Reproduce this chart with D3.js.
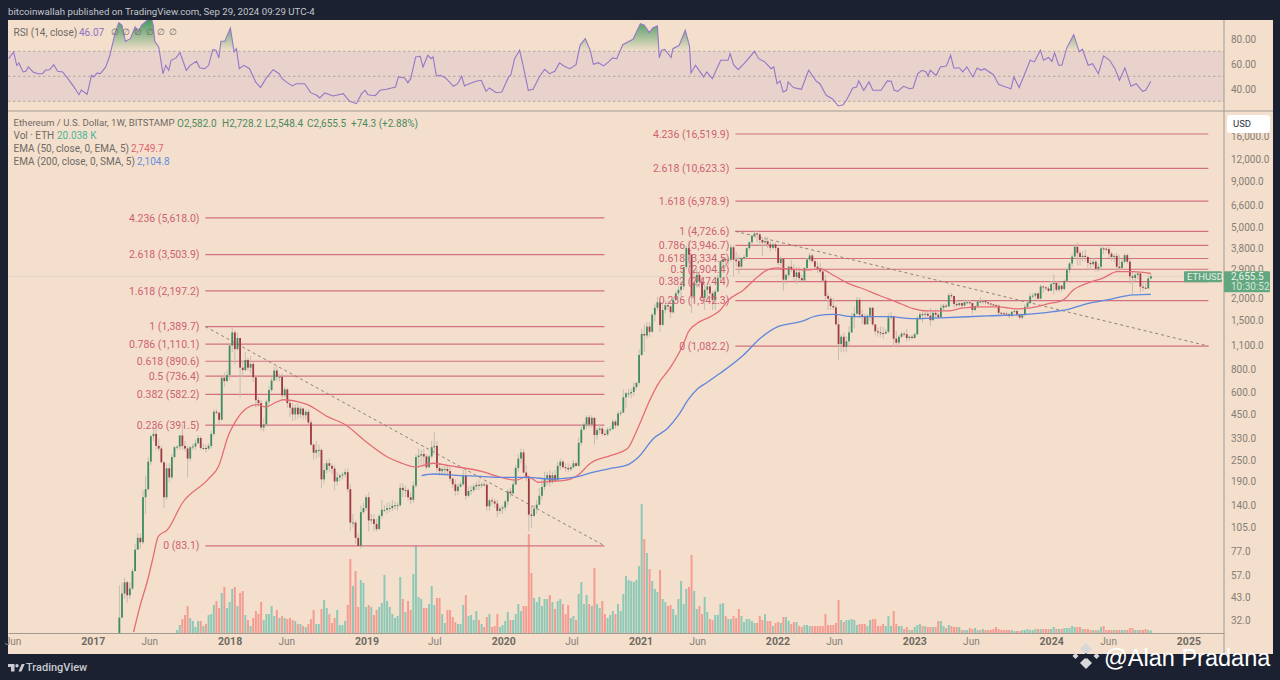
<!DOCTYPE html>
<html>
<head>
<meta charset="utf-8">
<title>ETHUSD</title>
<script src="https://cdn.jsdelivr.net/npm/d3@7"></script>
<style>
	html, body { margin: 0; padding: 0; background: #1b2130; }
	svg { display: block; }
	text { font-family: Roboto, "Noto Sans", sans-serif; }
</style>
</head>
<body>
<svg id="chart" width="1280" height="680"></svg>
<script>
// Weekly bars, Mon 2017-03-06 to Mon 2024-09-23. One row per year.
const closes = [
	// 2017
	24, 33, 45, 52, 44, 48, 60, 79, 92, 87, 155, 172, 245, 340, 350, 300, 290, 243, 155, 225, 200, 260, 295, 297, 343, 300, 290, 255, 295, 298, 310, 332, 292, 292, 290, 300, 350, 465, 460, 420, 720, 690, 745,
	// 2018
	1090, 1290, 1040, 1200, 820, 795, 905, 820, 860, 725, 540, 520, 380, 395, 530, 615, 695, 790, 730, 730, 575, 620, 520, 490, 450, 490, 450, 485, 445, 465, 405, 305, 275, 285, 285, 195, 220, 240, 232, 224, 190, 200, 205, 208, 214, 172, 112, 112, 92, 83, 128, 135, 155,
	// 2019
	115, 117, 110, 103, 122, 132, 132, 135, 135, 139, 140, 140, 175, 170, 170, 155, 150, 180, 260, 265, 270, 262, 228, 262, 295, 300, 226, 217, 223, 223, 217, 197, 183, 168, 178, 183, 205, 158, 168, 170, 178, 182, 180, 183, 182, 138, 149, 147, 143, 130, 134, 136,
	// 2020
	147, 167, 163, 183, 226, 255, 276, 213, 198, 124, 122, 134, 141, 158, 177, 198, 206, 188, 206, 192, 232, 245, 228, 226, 222, 228, 240, 232, 312, 370, 395, 433, 395, 430, 345, 368, 375, 350, 348, 370, 372, 410, 390, 455, 460, 560, 590, 590, 600, 640, 675, 965,
	// 2021
	1265, 1240, 1390, 1300, 1620, 1770, 1900, 1420, 1720, 1830, 1800, 1670, 1960, 2130, 2230, 2330, 2990, 3810, 3500, 2050, 2440, 2700, 2480, 2010, 2230, 2330, 2130, 1960, 2180, 2600, 3210, 3310, 3260, 3280, 3850, 3280, 3220, 3000, 3350, 3400, 3810, 4110, 4470, 4600, 4550, 4230, 4100, 4170, 4000, 3830, 4000, 3820,
	// 2022
	3150, 3320, 2540, 2700, 3000, 2880, 2630, 2790, 2590, 2520, 2950, 3290, 3470, 3220, 3000, 2920, 2820, 2510, 2060, 1990, 1810, 1780, 1430, 1110, 1220, 1070, 1150, 1290, 1570, 1640, 1960, 1620, 1590, 1430, 1600, 1770, 1430, 1310, 1290, 1280, 1270, 1300, 1565, 1590, 1190, 1130, 1220, 1270, 1260, 1200, 1220, 1200,
	// 2023
	1260, 1550, 1630, 1620, 1640, 1600, 1510, 1660, 1620, 1570, 1770, 1820, 1800, 2080, 2060, 1860, 1830, 1880, 1820, 1900, 1900, 1880, 1720, 1810, 1920, 1910, 1930, 1900, 1870, 1850, 1830, 1820, 1660, 1650, 1640, 1630, 1590, 1680, 1700, 1620, 1560, 1610, 1790, 1880, 2050, 2070, 2130, 1990, 2330, 2300, 2270, 2200,
	// 2024
	2400, 2440, 2230, 2350, 2250, 2500, 2880, 3130, 3420, 3880, 3580, 3400, 3450, 3400, 3150, 3100, 3200, 2920, 3000, 3800, 3780, 3760, 3550, 3400, 3450, 3000, 2950, 3200, 3480, 3200, 2650, 2600, 2700, 2750, 2320, 2290, 2270, 2580, 2655.5,
];
const highs = [
	27, 50, 52, 55, 53, 52, 62, 85, 98, 97, 170, 205, 260, 345, 400, 385, 330, 300, 245, 240, 240, 270, 300, 303, 345, 395, 320, 300, 300, 310, 325, 345, 340, 310, 305, 310, 365, 480, 480, 455, 730, 770, 790,
	1110, 1390, 1330, 1290, 1200, 900, 1000, 930, 950, 880, 740, 560, 540, 430, 545, 650, 720, 830, 835, 760, 760, 640, 630, 540, 520, 510, 520, 500, 490, 480, 480, 420, 310, 320, 305, 290, 240, 250, 255, 240, 235, 215, 210, 215, 222, 225, 185, 125, 115, 97, 140, 145, 160,
	165, 125, 125, 118, 125, 150, 140, 145, 145, 150, 147, 145, 185, 185, 180, 175, 165, 190, 270, 290, 285, 290, 270, 268, 320, 360, 320, 240, 230, 235, 235, 230, 200, 195, 185, 190, 220, 225, 178, 180, 185, 190, 195, 188, 190, 187, 152, 155, 152, 150, 138, 140,
	150, 172, 175, 190, 235, 270, 290, 288, 235, 205, 140, 140, 150, 175, 195, 215, 215, 220, 215, 220, 245, 255, 250, 240, 240, 235, 250, 245, 335, 395, 405, 445, 445, 445, 435, 380, 395, 385, 365, 380, 385, 425, 420, 470, 475, 620, 600, 625, 625, 680, 680, 1040,
	1350, 1430, 1480, 1470, 1660, 1870, 2040, 2000, 1850, 1950, 1945, 1830, 2000, 2200, 2350, 2500, 3000, 3950, 4200, 3540, 2900, 2900, 2850, 2600, 2400, 2420, 2420, 2200, 2250, 2700, 3250, 3400, 3400, 3380, 4000, 3960, 3620, 3480, 3400, 3500, 3850, 4180, 4500, 4800, 4726, 4620, 4350, 4450, 4400, 4200, 4100, 4100,
	3870, 3420, 3300, 2760, 3060, 3280, 3100, 2980, 3000, 2700, 2980, 3350, 3580, 3530, 3300, 3200, 3150, 2960, 2700, 2150, 2050, 2000, 1830, 1560, 1260, 1290, 1230, 1400, 1660, 1790, 2030, 2020, 1720, 1640, 1620, 1790, 1790, 1410, 1370, 1390, 1380, 1350, 1640, 1680, 1600, 1320, 1250, 1300, 1300, 1350, 1240, 1250,
	1280, 1590, 1680, 1720, 1690, 1720, 1760, 1720, 1730, 1660, 1850, 1860, 1860, 2130, 2140, 2000, 1950, 1920, 1900, 1970, 1950, 1960, 1900, 1820, 1940, 2030, 1970, 1920, 1900, 1890, 1870, 1860, 1840, 1680, 1680, 1690, 1660, 1700, 1750, 1720, 1640, 1630, 1850, 1900, 2130, 2140, 2140, 2140, 2390, 2350, 2350, 2330,
	2490, 2710, 2500, 2440, 2380, 2550, 2960, 3190, 3520, 4000, 4090, 3680, 3680, 3730, 3450, 3290, 3350, 3290, 3130, 3950, 3980, 3850, 3880, 3640, 3520, 3580, 3500, 3280, 3550, 3560, 3320, 2820, 2780, 2800, 2770, 2460, 2420, 2680, 2728.2,
];
const lows = [
	20, 28, 33, 42, 40, 42, 47, 60, 80, 80, 85, 125, 168, 235, 320, 285, 280, 240, 135, 150, 188, 195, 255, 285, 285, 285, 280, 200, 245, 285, 285, 310, 285, 285, 275, 285, 290, 340, 450, 400, 415, 640, 680,
	700, 1000, 850, 1020, 560, 730, 780, 790, 760, 680, 490, 500, 365, 360, 385, 510, 600, 690, 690, 690, 555, 560, 490, 435, 415, 420, 425, 430, 420, 420, 395, 300, 250, 255, 260, 175, 185, 210, 215, 210, 170, 180, 190, 195, 200, 165, 100, 105, 85, 82, 80, 125, 130,
	100, 110, 100, 100, 102, 118, 128, 125, 128, 130, 132, 130, 137, 155, 155, 148, 142, 145, 175, 235, 235, 230, 222, 225, 255, 270, 215, 205, 205, 208, 205, 190, 175, 158, 160, 175, 180, 150, 155, 160, 165, 170, 170, 175, 178, 130, 130, 140, 135, 120, 125, 125,
	130, 140, 155, 160, 180, 215, 240, 210, 190, 100, 105, 120, 125, 140, 150, 170, 180, 178, 185, 190, 200, 220, 225, 215, 215, 218, 225, 230, 230, 300, 365, 375, 380, 380, 305, 325, 350, 340, 340, 340, 360, 370, 375, 385, 440, 460, 490, 560, 555, 570, 620, 660,
	950, 1000, 1190, 1220, 1280, 1480, 1700, 1300, 1400, 1650, 1720, 1550, 1640, 1930, 2050, 2020, 2230, 2900, 3000, 1650, 1900, 2300, 2300, 1900, 1720, 1960, 2000, 1720, 1720, 2150, 2450, 2900, 2950, 3060, 3200, 2650, 3000, 2720, 2950, 3250, 3350, 3700, 3900, 4350, 4100, 3900, 3450, 3930, 3800, 3650, 3750, 3650,
	3050, 3020, 2200, 2400, 2600, 2800, 2500, 2400, 2500, 2450, 2480, 2850, 3200, 3150, 2880, 2780, 2750, 2450, 1950, 1720, 1720, 1720, 1420, 900, 1000, 1000, 1000, 1100, 1280, 1360, 1620, 1550, 1430, 1420, 1440, 1500, 1400, 1250, 1220, 1220, 1190, 1260, 1270, 1520, 1070, 1100, 1080, 1200, 1220, 1150, 1160, 1180,
	1190, 1250, 1510, 1460, 1550, 1570, 1400, 1500, 1550, 1540, 1580, 1720, 1760, 1790, 2000, 1780, 1780, 1800, 1750, 1800, 1850, 1840, 1640, 1700, 1790, 1880, 1860, 1850, 1830, 1820, 1780, 1800, 1610, 1600, 1600, 1610, 1550, 1580, 1650, 1580, 1530, 1530, 1600, 1760, 1860, 1990, 1980, 1930, 1980, 2140, 2200, 2170,
	2200, 2100, 2170, 2170, 2170, 2220, 2470, 2760, 3000, 3350, 3050, 3050, 3200, 3210, 2850, 2880, 3000, 2820, 2820, 2900, 3530, 3650, 3350, 3240, 3200, 2810, 2810, 2950, 3140, 3120, 2400, 2110, 2500, 2550, 2150, 2200, 2250, 2270, 2548.4,
];
// Thousand ETH. Nothing before Aug 2017.
const volumes = [
	0, 0, 0, 0, 0, 0, 0, 0, 0, 0, 0, 0, 0, 0, 0, 0, 0, 0, 0, 0, 0, 0, 0, 24, 64, 112, 144, 216, 120, 96, 48, 96, 96, 56, 72, 144, 152, 224, 256, 200, 320, 368, 200,
	248, 352, 368, 216, 320, 336, 144, 104, 56, 120, 176, 152, 248, 104, 152, 152, 216, 136, 184, 120, 136, 120, 112, 120, 104, 96, 72, 72, 56, 48, 72, 112, 184, 72, 72, 192, 264, 200, 152, 80, 120, 184, 64, 64, 96, 224, 592, 376, 496, 208, 424, 400, 208,
	224, 208, 144, 184, 208, 240, 464, 256, 208, 152, 120, 136, 448, 272, 168, 256, 184, 472, 704, 288, 272, 200, 200, 232, 376, 224, 280, 280, 152, 80, 184, 184, 128, 88, 72, 72, 224, 304, 136, 144, 104, 176, 104, 72, 48, 128, 152, 48, 56, 152, 48, 64,
	96, 168, 104, 104, 152, 232, 176, 216, 216, 792, 480, 280, 248, 288, 216, 272, 272, 304, 248, 192, 256, 272, 232, 152, 224, 120, 136, 104, 312, 408, 232, 304, 232, 216, 520, 232, 200, 256, 152, 120, 144, 176, 152, 232, 176, 312, 456, 424, 416, 408, 424, 536,
	1032, 752, 640, 512, 416, 352, 328, 504, 272, 248, 216, 224, 192, 144, 272, 416, 232, 352, 368, 624, 336, 192, 216, 152, 288, 168, 112, 104, 144, 144, 232, 240, 136, 112, 112, 136, 120, 192, 136, 88, 112, 112, 96, 80, 80, 136, 104, 152, 96, 96, 56, 80,
	88, 80, 128, 128, 96, 72, 88, 88, 56, 48, 64, 64, 56, 56, 56, 56, 56, 56, 152, 64, 64, 64, 80, 264, 104, 88, 104, 104, 112, 104, 64, 72, 72, 72, 56, 104, 112, 112, 56, 56, 72, 56, 136, 56, 176, 72, 56, 56, 32, 48, 24, 24,
	48, 64, 72, 56, 56, 48, 48, 48, 48, 96, 96, 56, 40, 64, 56, 48, 48, 48, 24, 24, 24, 40, 32, 40, 24, 24, 32, 24, 24, 24, 32, 48, 32, 24, 24, 24, 24, 24, 16, 16, 16, 24, 24, 32, 24, 24, 32, 32, 32, 32, 32, 32,
	32, 48, 32, 32, 32, 40, 40, 40, 56, 48, 48, 48, 32, 32, 32, 24, 24, 24, 24, 48, 56, 24, 24, 24, 24, 24, 24, 24, 24, 24, 40, 40, 24, 24, 24, 24, 32, 24, 20.038,
];

// Indicator lines, read at their turning points. Weeks count from 2017-03-06.
const emaWeeks = [6.4, 9, 11.7, 13.6, 15.9, 19.3, 25, 34.6, 38.8, 42.6, 45.2, 49.8, 53.6, 56.7, 61.2, 63.6, 68.8, 72.7, 80.3, 87.1, 95.5, 103.1, 108, 113.8, 120.6, 127.1, 139.7, 145, 152, 156.5, 160.7, 166, 172.9, 175.5, 180.5, 188.1, 194.6, 198.4, 203.3, 206, 211, 216, 217.8, 221.3, 226.2, 230, 232.7, 238.8, 244.1, 247.9, 251.7, 255.5, 263.1, 268.1, 273, 278.4, 283.3, 291, 297.4, 303.5, 308.8, 316.5, 322.6, 329.2, 335.7, 343.1, 348.1, 354.6, 360.7, 364.5, 369.8, 375.9, 381.2, 387.3, 394];
const emaValues = [27.4, 38.9, 53, 69, 94, 102, 144, 194, 231, 345, 410, 490, 510, 495, 530, 543, 530, 510, 437, 394, 312, 260, 242, 229, 240, 232, 215, 203, 193, 203, 188, 190, 196, 205, 240, 265, 290, 373, 548, 655, 825, 1120, 1300, 1455, 1580, 1720, 1935, 2225, 2630, 2880, 2960, 2920, 2880, 2920, 2690, 2430, 2290, 2060, 1900, 1750, 1700, 1700, 1770, 1790, 1790, 1745, 1770, 1860, 1960, 2230, 2430, 2600, 2820, 2820, 2749.7];
const smaWeeks = [116.1, 120.7, 131, 138.6, 146.2, 156.5, 165.2, 174, 180.5, 189.2, 194.6, 198.8, 204.5, 209.8, 214, 217.8, 221.3, 225, 230, 238.8, 245.3, 251.7, 260.5, 267, 273, 280.7, 293.6, 303.5, 313.8, 331.7, 344.3, 356.8, 362.1, 369.8, 377.4, 387.3, 394];
const smaValues = [205, 209, 205, 203, 200, 200, 196, 200, 212, 226, 235, 260, 330, 375, 445, 545, 625, 680, 765, 965, 1200, 1385, 1480, 1600, 1625, 1580, 1580, 1540, 1555, 1595, 1620, 1685, 1730, 1870, 1960, 2090, 2104.8];
const rsiWeeks = [-41.2, -39.3, -38.1, -37.3, -35.7, -34.6, -33.7, -31.9, -30, -28.3, -27.2, -25.6, -24, -22.5, -20.6, -18.6, -16.3, -14.4, -13.5, -11.3, -9.6, -8.8, -7.4, -6.2, -4.2, -2.6, -0.7, 0.8, 2, 3.3, 5.2, 7, 8.3, 9.4, 11.7, 12.9, 13.9, 14.5, 16, 17.6, 18.7, 19.8, 20.7, 22.6, 24.1, 26.5, 28, 30.4, 31.6, 33.5, 35, 36.6, 37.8, 38.9, 39.7, 41.2, 43.3, 44.7, 45.6, 46.7, 48.4, 50.6, 52.9, 54.8, 56.8, 59.6, 61.9, 63, 64.6, 66.9, 68.4, 71.6, 73.9, 76.2, 77.3, 79.3, 82.4, 86.3, 88.7, 91.3, 93.3, 94.6, 95.7, 98.5, 100.3, 102.7, 106.2, 107.3, 109.7, 110.9, 112, 113.9, 115.6, 116.7, 118.5, 119.8, 120.5, 121.8, 123.3, 125.2, 128.3, 129.9, 131.4, 132.5, 133.8, 136.9, 138.9, 140.7, 142, 144.6, 146.7, 149.3, 150.1, 151.6, 153.5, 154.8, 156.8, 158.6, 161, 163, 164.9, 166.9, 168.7, 170.3, 172.6, 175, 176.5, 178.5, 180.4, 181.6, 183.5, 185.5, 187.4, 188.9, 190.5, 192.8, 195.2, 196.7, 199.5, 201, 202.9, 204.2, 206, 206.7, 207.6, 208.8, 211.2, 211.9, 214.3, 216.6, 218.2, 218.8, 220.5, 223.6, 224.8, 226.9, 230.1, 232.9, 233.7, 235, 236.8, 239.6, 243, 244.6, 246.9, 249.3, 250.3, 251.6, 252.7, 253.9, 255.2, 255.8, 257.8, 260.9, 263.6, 266.4, 267.9, 270.3, 272.6, 274.9, 276.8, 278, 280.4, 281.9, 282.7, 284.6, 286.6, 288.1, 291.2, 293.6, 295.1, 296.2, 297.5, 299.8, 302.1, 303.4, 305.2, 306.8, 308.4, 309.1, 309.9, 312.2, 313.8, 316.1, 317.7, 318.9, 321.1, 322.3, 323.9, 326.2, 327.8, 329.3, 330.6, 334, 336, 337.9, 340.7, 341.8, 343.8, 346.5, 348, 349.6, 351.9, 353.1, 355, 356.3, 357.3, 358.9, 360.1, 362, 364.6, 366.7, 367.9, 370.1, 371.8, 374, 376, 378.3, 380.3, 382, 384.1, 386.4, 388.4, 390.8, 392, 394];
const rsiValues = [64.1, 69.5, 58.8, 60.7, 53.5, 54, 57.5, 53.5, 52.1, 52.1, 54.8, 55.3, 59.3, 54, 53.5, 48.1, 41.5, 35.3, 39, 35.6, 50.8, 49.5, 52.7, 52.1, 57.5, 66.8, 84.1, 92.9, 90.8, 78, 80.1, 89.5, 85.5, 90.8, 95, 99, 90.8, 78, 73.5, 52.1, 58.8, 54.8, 62.8, 64.7, 68.9, 54.8, 58.8, 62, 56.9, 56.1, 58.8, 71.3, 70.8, 64.7, 78, 78, 88.7, 69.5, 72.1, 56.1, 58.8, 56.1, 45.5, 41, 48.1, 55.3, 52.1, 48.1, 45.5, 42.3, 44.1, 44.1, 36.9, 34.8, 32.7, 36.7, 34.3, 36.1, 30, 28.1, 36.1, 38.8, 35.3, 34.5, 38.8, 39.6, 41.5, 49.5, 48.7, 44.9, 48.1, 65.5, 66, 57.5, 66.8, 64.1, 65.5, 50.3, 50.8, 48.9, 42, 44.1, 50, 42.3, 43.6, 46, 46.8, 38, 40.7, 36.9, 37.5, 49.5, 50.8, 64.1, 70.8, 58.8, 38.8, 39.6, 49.5, 55.6, 52.1, 54, 60.7, 58.3, 56.1, 59.3, 74.8, 80.1, 70.8, 59.6, 60.9, 58.3, 61.5, 64.7, 64.1, 75.3, 78, 79.6, 92.1, 90.8, 84.9, 88.7, 90.3, 64.7, 70.8, 71.6, 65, 72.1, 74.8, 86.8, 74.3, 52.7, 58.8, 49.5, 53.5, 48.1, 62.8, 62.8, 68.1, 59.3, 55.3, 61.5, 70, 64.1, 61.5, 56.1, 57.5, 44.1, 46.3, 37.5, 38.8, 45.5, 41, 39.6, 54.8, 46.3, 44.1, 34.8, 32.1, 26.3, 27.3, 30.8, 40.7, 41.5, 46.3, 38.8, 45.5, 38.8, 38.8, 46.3, 46, 38.8, 38, 42, 40.1, 40.7, 52.1, 54.8, 53.5, 50, 54.8, 50.8, 57.5, 58.3, 66.8, 56.7, 56.7, 53.5, 57.5, 49.5, 56.7, 54.8, 56.1, 51.3, 43.6, 42, 40.1, 49.5, 41, 54.8, 62.8, 61.5, 70.8, 62.8, 65, 62, 68.7, 58.8, 58.8, 72.9, 83.3, 69.5, 71.6, 58.8, 60.1, 52.1, 66.3, 62.8, 56.1, 46.8, 56.7, 42, 44.1, 38, 38.8, 46.07];

// Fibonacci retracements, two anchors each
const fibLevels = [4.236, 2.618, 1.618, 1, 0.786, 0.618, 0.5, 0.382, 0.236, 0];
const fibValues2018 = [5618.0, 3503.9, 2197.2, 1389.7, 1110.1, 890.6, 736.4, 582.2, 391.5, 83.1];
const fibValues2021 = [16519.9, 10623.3, 6978.9, 4726.6, 3946.7, 3334.5, 2904.4, 2474.4, 1942.3, 1082.2];
const fibWeeks2018 = [33.8, 185.8];
const fibWeeks2021 = [235.7, 415.9];

const priceTicks = [16000, 12000, 9000, 6600, 5000, 3800, 2900, 2000, 1500, 1100, 800, 600, 450, 330, 250, 190, 140, 105, 77, 57, 43, 32];
const rsiTicks = [80, 60, 40];
const rsiBands = [70, 50, 30];
const timeTicks = ['2016-06-01', '2017-01-01', '2017-06-01', '2018-01-01', '2018-06-01', '2019-01-01', '2019-07-01', '2020-01-01', '2020-07-01', '2021-01-01', '2021-06-01', '2022-01-01', '2022-06-01', '2023-01-01', '2023-06-01', '2024-01-01', '2024-06-01', '2025-01-01'];

const legendOhlc = ['O2,582.0', 'H2,728.2', 'L2,548.4', 'C2,655.5', '+74.3 (+2.88%)'];
const legendOhlcX = [177, 222, 265, 307, 351];
const rsiDots = [111, 122, 134, 146, 157, 169];

const INK = '#6f6a64';
const AXIS_INK = '#857e74';
const LINE = '#a09a90';
const FIB = '#d2707f';
const GREEN = '#3f8c62';
const RED = '#9d3a44';
const WICK = '#c4bdb0';
const VOL_GREEN = '#8dc9b6';
const VOL_RED = '#f59c92';

const PANE = { left: 8, right: 1224, edge: 1273, top: 20, bottom: 654, rsiBottom: 111, priceBottom: 633 };

const firstWeek = Date.UTC(2017, 2, 6);
const weekDate = w => new Date(firstWeek + w * 7 * 864e5);
const bars = closes.map((close, i) => ({
	date: weekDate(i),
	open: i === 0 ? 20 : closes[i - 1],
	close,
	high: highs[i],
	low: lows[i],
	volume: volumes[i],
}));

const xScale = d3.scaleUtc()
	.domain([new Date(Date.UTC(2016, 4, 20)), new Date(Date.UTC(2025, 3, 6))])
	.range([PANE.left, PANE.right]);
const yPrice = d3.scaleLog()
	.domain([27.09, 22200])
	.range([PANE.priceBottom, PANE.rsiBottom]);
const yVolume = d3.scaleLinear()
	.domain([0, 1032])
	.range([PANE.priceBottom, PANE.priceBottom - 129]);
const yRsi = d3.scaleLinear()
	.domain([30, 70])
	.range([101.3, 51.3]);

const svg = d3.select('#chart');
svg.append('rect').attr('width', 1280).attr('height', 680).attr('fill', '#1b2130');
svg.append('rect')
	.attr('x', PANE.left).attr('y', PANE.top)
	.attr('width', PANE.edge - PANE.left).attr('height', PANE.bottom - PANE.top)
	.attr('fill', '#f4dfcd');

const defs = svg.append('defs');
defs.append('clipPath').attr('id', 'clipPrice').append('rect')
	.attr('x', PANE.left).attr('y', PANE.rsiBottom)
	.attr('width', PANE.right - PANE.left).attr('height', PANE.priceBottom - PANE.rsiBottom);
defs.append('clipPath').attr('id', 'clipRsi').append('rect')
	.attr('x', PANE.left).attr('y', PANE.top)
	.attr('width', PANE.right - PANE.left).attr('height', PANE.rsiBottom - PANE.top);
defs.append('clipPath').attr('id', 'clipOverbought').append('rect')
	.attr('x', PANE.left).attr('y', PANE.top)
	.attr('width', PANE.right - PANE.left).attr('height', yRsi(70) - PANE.top);
const gradient = defs.append('linearGradient').attr('id', 'rsiFill')
	.attr('gradientUnits', 'userSpaceOnUse')
	.attr('x1', 0).attr('x2', 0).attr('y1', PANE.top).attr('y2', yRsi(70));
gradient.append('stop').attr('offset', 0).attr('stop-color', '#3f9658').attr('stop-opacity', 0.95);
gradient.append('stop').attr('offset', 1).attr('stop-color', '#3f9658').attr('stop-opacity', 0);

// RSI pane
const gRsi = svg.append('g').attr('clip-path', 'url(#clipRsi)');
gRsi.append('rect')
	.attr('x', PANE.left).attr('y', yRsi(70))
	.attr('width', PANE.right - PANE.left).attr('height', yRsi(30) - yRsi(70))
	.attr('fill', '#7e57c2').attr('opacity', 0.09);
gRsi.selectAll('line.band').data(rsiBands).enter().append('line').classed('band', true)
	.attr('x1', PANE.left).attr('x2', PANE.right)
	.attr('y1', d => yRsi(d)).attr('y2', d => yRsi(d))
	.attr('stroke', '#a39d96').attr('stroke-width', 0.8).attr('stroke-dasharray', '2.5 2.5');

const rsiPoints = rsiWeeks.map((w, i) => [xScale(weekDate(w)), yRsi(rsiValues[i])]);
gRsi.append('path')
	.attr('clip-path', 'url(#clipOverbought)')
	.attr('d', d3.area().x(d => d[0]).y0(yRsi(70)).y1(d => d[1])(rsiPoints))
	.attr('fill', 'url(#rsiFill)');
gRsi.append('path')
	.attr('d', d3.line()(rsiPoints))
	.attr('fill', 'none').attr('stroke', '#9478c8').attr('stroke-width', 1.1);

// Volume sits under the candles
const gPrice = svg.append('g').attr('clip-path', 'url(#clipPrice)');
gPrice.append('g').selectAll('rect').data(bars.filter(d => d.volume > 0)).enter().append('rect')
	.attr('x', d => xScale(d.date) - 1)
	.attr('width', 2)
	.attr('y', d => yVolume(d.volume))
	.attr('height', d => yVolume(0) - yVolume(d.volume))
	.attr('fill', d => (d.close >= d.open ? VOL_GREEN : VOL_RED));

// Fib lines and the dashed line between the anchors
[[fibValues2018, fibWeeks2018], [fibValues2021, fibWeeks2021]].forEach(([values, weeks]) => {
	gPrice.append('g').selectAll('line').data(values).enter().append('line')
		.attr('x1', xScale(weekDate(weeks[0]))).attr('x2', xScale(weekDate(weeks[1])))
		.attr('y1', d => yPrice(d)).attr('y2', d => yPrice(d))
		.attr('stroke', FIB).attr('stroke-width', 1.2);
	gPrice.append('line')
		.attr('x1', xScale(weekDate(weeks[0]))).attr('x2', xScale(weekDate(weeks[1])))
		.attr('y1', yPrice(values[3])).attr('y2', yPrice(values[9]))
		.attr('stroke', '#7f776c').attr('stroke-width', 0.9).attr('stroke-dasharray', '3 3');
});

// Last price line
gPrice.append('line')
	.attr('x1', PANE.left).attr('x2', PANE.right)
	.attr('y1', yPrice(2655.5)).attr('y2', yPrice(2655.5))
	.attr('stroke', '#dccfbf').attr('stroke-width', 0.8);

const gCandles = gPrice.append('g');
gCandles.selectAll('line').data(bars).enter().append('line')
	.attr('x1', d => xScale(d.date)).attr('x2', d => xScale(d.date))
	.attr('y1', d => yPrice(d.high)).attr('y2', d => yPrice(d.low))
	.attr('stroke', WICK).attr('stroke-width', 1);
gCandles.selectAll('rect').data(bars).enter().append('rect')
	.attr('x', d => xScale(d.date) - 0.9)
	.attr('width', 1.8)
	.attr('y', d => yPrice(Math.max(d.open, d.close)))
	.attr('height', d => Math.max(1, Math.abs(yPrice(d.open) - yPrice(d.close))))
	.attr('fill', d => (d.close >= d.open ? GREEN : RED));

const priceLine = d3.line().curve(d3.curveMonotoneX);
gPrice.append('path')
	.attr('d', priceLine(emaWeeks.map((w, i) => [xScale(weekDate(w)), yPrice(emaValues[i])])))
	.attr('fill', 'none').attr('stroke', '#e56c74').attr('stroke-width', 1.3);
gPrice.append('path')
	.attr('d', priceLine(smaWeeks.map((w, i) => [xScale(weekDate(w)), yPrice(smaValues[i])])))
	.attr('fill', 'none').attr('stroke', '#5f86dc').attr('stroke-width', 1.3);

// Fib labels go over the candles
[[fibValues2018, fibWeeks2018], [fibValues2021, fibWeeks2021]].forEach(([values, weeks]) => {
	svg.append('g').selectAll('text').data(values).enter().append('text')
		.attr('x', xScale(weekDate(weeks[0])) - 6)
		.attr('y', d => yPrice(d))
		.attr('dy', '0.35em')
		.attr('text-anchor', 'end')
		.attr('font-size', 10.5)
		.attr('fill', '#cc5f72')
		.text((d, i) => `${fibLevels[i]} (${d3.format(',.1f')(d)})`);
});

// Pane frame
svg.append('line').attr('x1', PANE.left).attr('x2', PANE.edge)
	.attr('y1', PANE.rsiBottom).attr('y2', PANE.rsiBottom)
	.attr('stroke', LINE).attr('stroke-width', 1.2);
svg.append('line').attr('x1', PANE.right).attr('x2', PANE.right)
	.attr('y1', PANE.top).attr('y2', PANE.bottom)
	.attr('stroke', LINE);

// Axes
const axisPrice = svg.append('g')
	.attr('transform', `translate(${PANE.right},0)`)
	.call(d3.axisRight(yPrice).tickValues(priceTicks).tickFormat(d3.format(',.1f')).tickSize(0).tickPadding(7));
const axisRsi = svg.append('g')
	.attr('transform', `translate(${PANE.right},0)`)
	.call(d3.axisRight(yRsi).tickValues(rsiTicks).tickFormat(d3.format('.2f')).tickSize(0).tickPadding(7));
const timeFormat = d => (d.getUTCMonth() === 0 ? d.getUTCFullYear() : d3.utcFormat('%b')(d));
const axisTime = svg.append('g')
	.attr('transform', `translate(0,${PANE.priceBottom})`)
	.call(d3.axisBottom(xScale).tickValues(timeTicks.map(d => new Date(d))).tickFormat(timeFormat).tickSize(0).tickPadding(5));
[axisPrice, axisRsi, axisTime].forEach((axis) => {
	axis.selectAll('text').attr('font-size', 10).attr('fill', AXIS_INK);
	axis.attr('font-family', null);
	axis.select('.domain').attr('stroke', 'none');
});
axisTime.select('.domain').attr('stroke', LINE).attr('stroke-width', 1);
axisTime.selectAll('.tick text')
	.filter(d => d.getUTCMonth() === 0)
	.attr('font-weight', 700)
	.attr('font-size', 10.5)
	.attr('fill', '#6f6a60');

// Legends
function addText(parent, x, y, str, fill, size = 10) {
	return parent.append('text')
		.attr('x', x).attr('y', y).attr('dy', '0.35em')
		.attr('font-size', size).attr('fill', fill)
		.text(str);
}
addText(svg, 8, 12, 'bitcoinwallah published on TradingView.com, Sep 29, 2024 09:29 UTC-4', '#c3c6cb', 9.7);
addText(svg, 13.5, 32, 'RSI (14, close)', INK);
addText(svg, 79, 32, '46.07', '#8e6fc4');
rsiDots.forEach(x => addText(svg, x, 32, '∅', INK, 9));
addText(svg, 13.5, 123, 'Ethereum / U.S. Dollar, 1W, BITSTAMP', INK, 9.6);
legendOhlc.forEach((str, i) => addText(svg, legendOhlcX[i], 123, str, '#4b8a60'));
addText(svg, 13.5, 135.5, 'Vol · ETH', INK);
addText(svg, 57, 135.5, '20.038 K', '#4cb597');
addText(svg, 13.5, 148, 'EMA (50, close, 0, EMA, 5)', INK);
addText(svg, 131, 148, '2,749.7', '#e5616c');
addText(svg, 13.5, 161, 'EMA (200, close, 0, SMA, 5)', INK);
addText(svg, 137, 161, '2,104.8', '#5f8fe0');

// Scale badges
svg.append('rect').attr('x', 1227).attr('y', 115).attr('width', 43).attr('height', 18).attr('rx', 3).attr('fill', '#ffffff');
addText(svg, 1233, 124, 'USD', '#2b2f38', 9.5);
const lastY = yPrice(2655.5);
svg.append('rect').attr('x', 1184).attr('y', lastY - 5).attr('width', 38).attr('height', 11).attr('rx', 1).attr('fill', '#62a67f');
addText(svg, 1187, lastY + 0.5, 'ETHUSD', '#e4efe4', 9.5);
svg.append('rect').attr('x', PANE.right).attr('y', lastY - 5).attr('width', 46).attr('height', 21).attr('rx', 1).attr('fill', '#62a67f');
addText(svg, 1231, lastY, '2,655.5', '#e8f2e8');
addText(svg, 1231, lastY + 10, '10:30:52', '#d5e8d8');

// Footer
svg.append('path')
	.attr('d', 'M8 664h6.5v7.5H11V667H8z M18.5 671.5l3.2-7.5h3l-3.2 7.5z')
	.attr('fill', '#c9cbd0');
svg.append('circle').attr('cx', 17).attr('cy', 665.8).attr('r', 1.7).attr('fill', '#c9cbd0');
addText(svg, 26, 667.5, 'TradingView', '#c9cbd0', 11).attr('font-weight', 500);

const watermark = svg.append('g');
const logoX = 1086;
const logoY = 656;
[[0, -7, 6], [0, 7, 6], [-10.5, 0, 3], [10.5, 0, 3]].forEach(([dx, dy, r]) => {
	watermark.append('path')
		.attr('d', `M${logoX + dx} ${logoY + dy - r}l${r} ${r}l${-r} ${r}l${-r} ${-r}z`)
		.attr('fill', '#d8d8d8');
});
watermark.append('path')
	.attr('d', `M${logoX} ${logoY - 3}l3 3l-3 3l-3 -3z`)
	.attr('fill', '#1b2130');
watermark.append('text')
	.attr('x', 1104).attr('y', 666)
	.attr('font-size', 23.5)
	.style('font-family', '"Liberation Sans", sans-serif')
	.attr('fill', '#ffffff')
	.text('@Alan Pradana');
</script>
</body>
</html>
